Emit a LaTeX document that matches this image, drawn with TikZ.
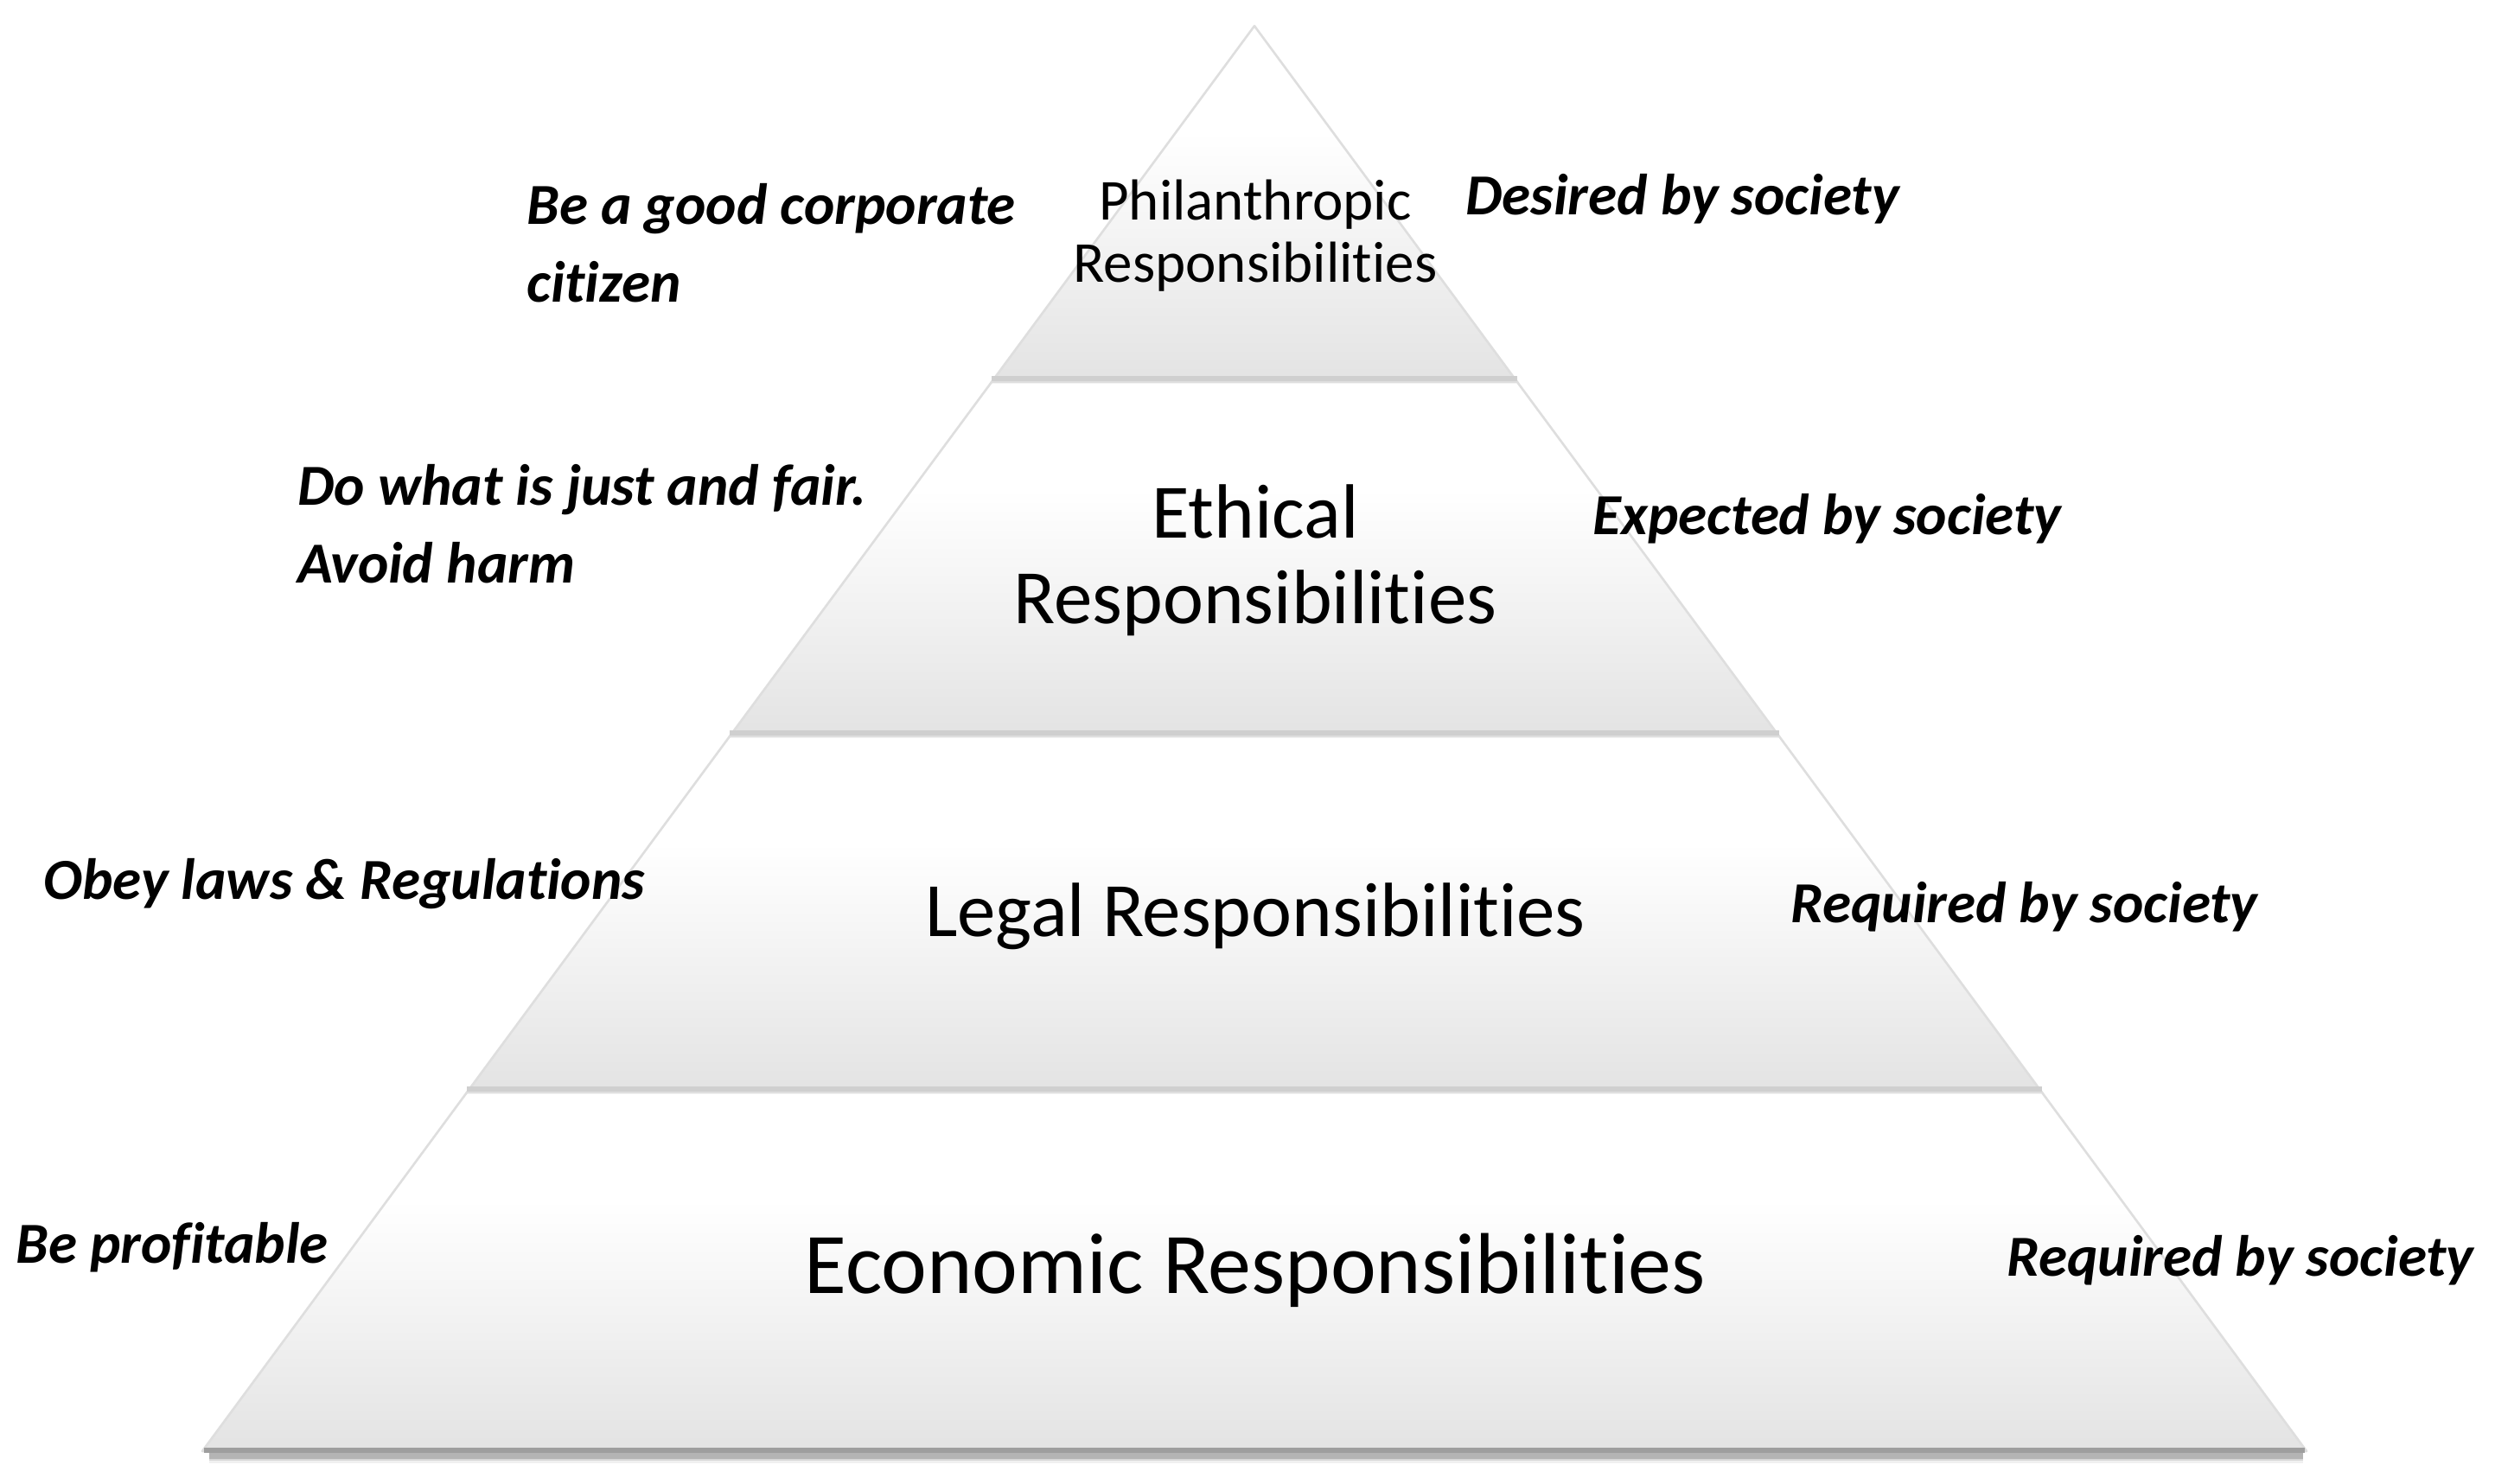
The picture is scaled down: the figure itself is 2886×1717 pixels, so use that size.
\documentclass[tikz,border=0pt]{standalone}
\usepackage{fontspec}
\setmainfont{Carlito}[Ligatures=NoCommon]
\pgfdeclareverticalshading{tiershade}{100bp}{color(0bp)=(black!11); color(25bp)=(black!11); color(50bp)=(black!3); color(60bp)=(white); color(100bp)=(white)}
\begin{document}
\begin{tikzpicture}[x=0.5pt,y=-0.5pt,
  tier/.style={shading=tiershade, draw=black!13, line width=1.3pt, line join=round},
  sepline/.style={draw=black!19, line width=3pt},
  lab/.style={font=\fontsize{33.6}{45}\selectfont\bfseries\itshape, anchor=west, align=left, inner sep=0pt},
  tiertext/.style={anchor=center, align=center, inner sep=0pt}]
\useasboundingbox (0,0) rectangle (2886,1717);
\fill[white] (0,0) rectangle (2886,1717);
% corners
\coordinate (ap) at (1451,30);
\coordinate (l1) at (1147,442); \coordinate (r1) at (1755,442);
\coordinate (l2) at (844,852);  \coordinate (r2) at (2058,852);
\coordinate (l3) at (540,1264); \coordinate (r3) at (2362,1264);
\coordinate (l4) at (234,1679); \coordinate (r4) at (2668,1679);
% base shadow
\foreach \o/\w in {0.06/20,0.10/14,0.16/9}{
  \draw[black, opacity=\o, line width=\w*0.5pt] ([xshift=4pt,yshift=-2pt]l4) -- ([xshift=-2pt,yshift=-2pt]r4);
}
% tiers
\path[tier] (ap) -- (r1) -- (l1) -- cycle;
\path[tier] (l1) -- (r1) -- (r2) -- (l2) -- cycle;
\path[tier] (l2) -- (r2) -- (r3) -- (l3) -- cycle;
\path[tier] (l3) -- (r3) -- (r4) -- (l4) -- cycle;
\draw[sepline] ([yshift=2pt]l1) -- ([yshift=2pt]r1);
\draw[sepline] ([yshift=2pt]l2) -- ([yshift=2pt]r2);
\draw[sepline] ([yshift=2pt]l3) -- ([yshift=2pt]r3);
\draw[draw=black!38, line width=3pt] ([xshift=1pt,yshift=0.5pt]l4) -- ([xshift=-1pt,yshift=0.5pt]r4);
% tier texts
\node[tiertext, font=\fontsize{33.5}{36}\selectfont] (phil) at (1452,273) {Philanthropic\\Responsibilities};
\node[tiertext, font=\fontsize{44.5}{49.5}\selectfont] (eth) at (1452,648) {Ethical\\Responsibilities};
\node[tiertext, font=\fontsize{44.5}{49.5}\selectfont] (leg) at (1452,1060) {Legal Responsibilities};
\node[tiertext, font=\fontsize{50}{55}\selectfont] (eco) at (1452,1470) {Economic Responsibilities};
% left labels
\node[lab] (lphil) at (609,281) {Be a good corporate\\citizen};
\node[lab] (leth) at (344,606) {Do what is just and fair.\\Avoid harm};
\node[lab] (lleg) at (50,1023) {Obey laws \& Regulations};
\node[lab] (leco) at (18,1443) {Be profitable};
% right labels
\node[lab] (rphil) at (1695,230) {Desired by society};
\node[lab] (reth) at (1842,600) {Expected by society};
\node[lab] (rleg) at (2071,1049) {Required by society};
\node[lab] (reco) at (2321,1458) {Required by society};
\end{tikzpicture}
\end{document}
